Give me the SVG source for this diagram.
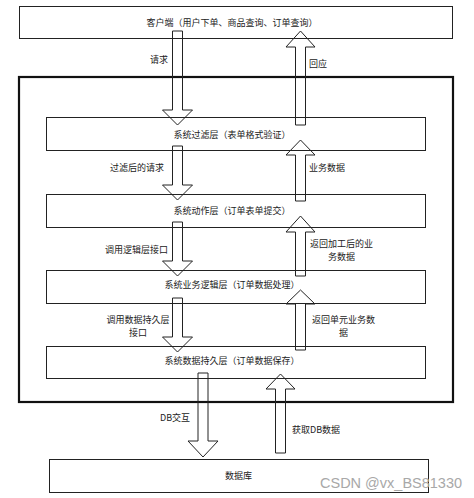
<svg xmlns="http://www.w3.org/2000/svg" width="474" height="498" viewBox="0 0 474 498">
<style>
.box{fill:none;stroke:#222;stroke-width:1}
.outer{fill:none;stroke:#111;stroke-width:2.2}
.arr{fill:none;stroke:#222;stroke-width:1;stroke-linejoin:miter}
.t{font-family:"Noto Sans CJK SC","Noto Sans",sans-serif;font-size:9px;fill:#222}
.c{text-anchor:middle}
.wm{font-family:"Liberation Sans",Arial,sans-serif;font-size:14.5px;fill:#a8a8a8}
</style>
<rect x="0" y="0" width="474" height="498" fill="#fff"/>
<g id="client">
<rect class="box" x="19.5" y="6.5" width="433" height="32"/>
<text class="t c" x="232" y="25.5">客户端（用户下单、商品查询、订单查询）</text>
</g>
<g id="system">
<rect class="outer" x="19" y="77" width="434" height="325"/>
</g>
<g id="filter">
<rect class="box" x="46.5" y="117.5" width="379" height="33"/>
<text class="t c" x="232" y="137.5">系统过滤层（表单格式验证）</text>
</g>
<g id="action">
<rect class="box" x="46.5" y="194.5" width="379" height="33"/>
<text class="t c" x="232" y="214">系统动作层（订单表单提交）</text>
</g>
<g id="logic">
<rect class="box" x="46.5" y="270.5" width="379" height="33"/>
<text class="t c" x="232" y="287.5">系统业务逻辑层（订单数据处理）</text>
</g>
<g id="persist">
<rect class="box" x="46.5" y="346.5" width="379" height="32"/>
<text class="t c" x="232" y="363.5">系统数据持久层（订单数据保存）</text>
</g>
<g id="database">
<rect class="box" x="49.5" y="459.5" width="379" height="33"/>
<text class="t c" x="238.5" y="479">数据库</text>
</g>
<g id="connectors">
<polygon class="arr" points="172.5,31 182.5,31 182.5,110 192.5,110 177.5,125 162.5,110 172.5,110"/>
<polygon class="arr" points="295.5,125 305.5,125 305.5,47 315,47 300.5,31 286,47 295.5,47"/>
<polygon class="arr" points="172.5,146 182.5,146 182.5,185 192.5,185 177.5,200 162.5,185 172.5,185"/>
<polygon class="arr" points="295.5,201 305.5,201 305.5,155 315,155 300.5,140 286,155 295.5,155"/>
<polygon class="arr" points="172.5,222 182.5,222 182.5,261 192.5,261 177.5,276 162.5,261 172.5,261"/>
<polygon class="arr" points="295.5,276 305.5,276 305.5,232 315,232 300.5,216 286,232 295.5,232"/>
<polygon class="arr" points="172.5,298 182.5,298 182.5,337 192.5,337 177.5,352 162.5,337 172.5,337"/>
<polygon class="arr" points="295.5,350 305.5,350 305.5,304 315,304 300.5,290 286,304 295.5,304"/>
<polygon class="arr" points="198,373 208,373 208,441 218,441 203,457 188,441 198,441"/>
<polygon class="arr" points="275.5,453 285.5,453 285.5,389 295,389 280.5,374 266,389 275.5,389"/>
<text class="t" x="150" y="63">请求</text>
<text class="t" x="309" y="67">回应</text>
<text class="t" x="110" y="170.5">过滤后的请求</text>
<text class="t" x="309" y="170.5">业务数据</text>
<text class="t" x="105" y="252.5">调用逻辑层接口</text>
<text class="t c" x="341.5" y="247">返回加工后的业</text>
<text class="t c" x="341.5" y="260">务数据</text>
<text class="t c" x="138" y="323">调用数据持久层</text>
<text class="t c" x="138" y="336">接口</text>
<text class="t c" x="343.5" y="323">返回单元业务数</text>
<text class="t c" x="343.5" y="336">据</text>
<text class="t" x="160" y="420.5">DB交互</text>
<text class="t" x="292" y="432.5">获取DB数据</text>
</g>
<text class="wm" x="320" y="488">CSDN @vx_BS81330</text>
</svg>
